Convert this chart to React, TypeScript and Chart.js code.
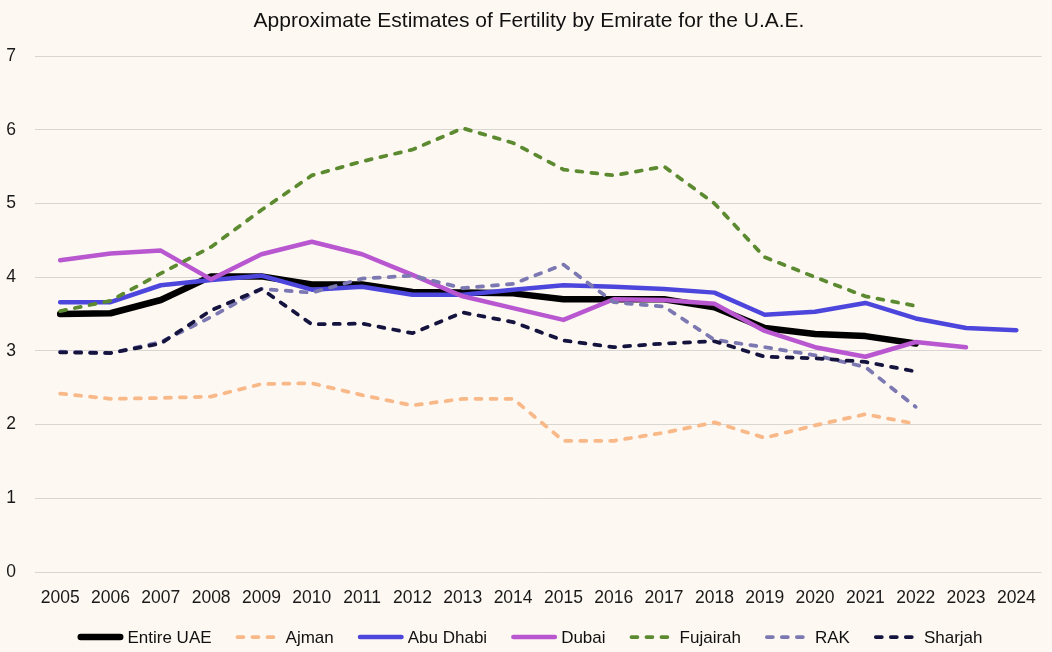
import React, { useEffect, useRef } from 'react';
import { Chart, registerables } from 'chart.js';

Chart.register(...registerables);

const FONT = '"Liberation Sans", Arial, sans-serif';

const chartTitle = 'Approximate Estimates of Fertility by Emirate for the U.A.E.';

const years = [
  '2005', '2006', '2007', '2008', '2009', '2010', '2011', '2012', '2013', '2014',
  '2015', '2016', '2017', '2018', '2019', '2020', '2021', '2022', '2023', '2024',
];

const yTicks = [0, 1, 2, 3, 4, 5, 6, 7];

const entireUAE = [3.50, 3.51, 3.69, 4.01, 4.01, 3.90, 3.90, 3.80, 3.79, 3.78, 3.70, 3.70, 3.70, 3.59, 3.31, 3.23, 3.20, 3.10, null, null];
const ajman = [2.42, 2.35, 2.36, 2.38, 2.55, 2.56, 2.40, 2.26, 2.35, 2.35, 1.78, 1.78, 1.89, 2.03, 1.82, 1.99, 2.14, 2.01, null, null];
const abuDhabi = [3.66, 3.66, 3.89, 3.96, 4.02, 3.83, 3.87, 3.76, 3.76, 3.83, 3.89, 3.87, 3.84, 3.79, 3.49, 3.53, 3.65, 3.44, 3.31, 3.28];
const dubai = [4.23, 4.32, 4.36, 3.97, 4.31, 4.48, 4.31, 4.03, 3.74, 3.58, 3.42, 3.70, 3.69, 3.64, 3.27, 3.05, 2.92, 3.12, 3.05, null];
const fujairah = [3.54, 3.68, 4.05, 4.41, 4.91, 5.38, 5.57, 5.73, 6.02, 5.82, 5.46, 5.38, 5.50, 5.00, 4.27, 4.00, 3.74, 3.61, null, null];
const rak = [2.99, 2.97, 3.12, 3.46, 3.84, 3.79, 3.98, 4.02, 3.85, 3.91, 4.17, 3.66, 3.60, 3.15, 3.05, 2.94, 2.78, 2.24, null, null];
const sharjah = [2.98, 2.97, 3.10, 3.55, 3.84, 3.36, 3.37, 3.24, 3.52, 3.39, 3.14, 3.05, 3.10, 3.13, 2.92, 2.90, 2.85, 2.72, null, null];

const seriesNames = ['Entire UAE', 'Ajman', 'Abu Dhabi', 'Dubai', 'Fujairah', 'RAK', 'Sharjah'];
const seriesValues = [entireUAE, ajman, abuDhabi, dubai, fujairah, rak, sharjah];
const seriesColors = ['#000000', '#F8B888', '#4D46DC', '#B857CF', '#5C8A30', '#7B78B2', '#15143F'];
const seriesWidths = [6.5, 3.75, 4.5, 4.5, 3.75, 3.75, 3.75];
const seriesDashed = [false, true, false, false, true, true, true];

const DASH = [6, 9];

// Title across the top and a legend row under the x-axis labels
// (short line samples followed by the series name).
const titleAndLegend = {
  id: 'titleAndLegend',
  afterDraw(chart: any) {
    const ctx = chart.ctx as CanvasRenderingContext2D;
    const datasets = chart.data.datasets;
    ctx.save();

    ctx.font = `21px ${FONT}`;
    ctx.fillStyle = '#111111';
    ctx.textAlign = 'center';
    ctx.textBaseline = 'middle';
    ctx.fillText(chartTitle, 529, 21);

    ctx.font = `17px ${FONT}`;
    const sampleW = 46;
    const textGap = 4;
    const itemGap = 24;
    const widths = datasets.map((ds: any) => ctx.measureText(ds.label).width);
    const total = widths.reduce((s: number, w: number) => s + sampleW + textGap + w, 0) + itemGap * (datasets.length - 1);
    let x = chart.width / 2 + 4 - total / 2;
    const y = 637;
    datasets.forEach((ds: any, i: number) => {
      const lw = ds.borderWidth;
      ctx.strokeStyle = ds.borderColor;
      ctx.lineWidth = lw;
      ctx.lineCap = 'round';
      ctx.setLineDash(ds.borderDash || []);
      ctx.beginPath();
      ctx.moveTo(x + lw / 2, y);
      if (ds.borderDash && ds.borderDash.length) {
        ctx.lineTo(x + 38, y);
      } else {
        ctx.lineTo(x + sampleW - lw / 2, y);
      }
      ctx.stroke();
      ctx.setLineDash([]);
      ctx.fillStyle = '#111111';
      ctx.textBaseline = 'middle';
      ctx.textAlign = 'left';
      ctx.fillText(ds.label, x + sampleW + textGap, y + 1);
      x += sampleW + textGap + widths[i] + itemGap;
    });
    ctx.restore();
  },
};

export default function App() {
  const canvasRef = useRef<HTMLCanvasElement | null>(null);

  useEffect(() => {
    if (!canvasRef.current) return;
    const datasets = seriesNames.map((name, i) => ({
      label: name,
      data: seriesValues[i],
      borderColor: seriesColors[i],
      backgroundColor: seriesColors[i],
      borderWidth: seriesWidths[i],
      borderDash: seriesDashed[i] ? DASH : [],
      borderCapStyle: 'round' as const,
      borderJoinStyle: 'round' as const,
      pointRadius: 0,
      pointHoverRadius: 0,
      tension: 0,
      fill: false,
      spanGaps: false,
      order: seriesNames.length - i,
    }));

    const chart = new Chart(canvasRef.current, {
      type: 'line',
      data: { labels: years, datasets },
      plugins: [titleAndLegend],
      options: {
        responsive: false,
        animation: false,
        devicePixelRatio: 1,
        layout: { padding: { left: 0, right: 7, top: 56, bottom: 0 } },
        plugins: {
          legend: { display: false },
          tooltip: { enabled: false },
          title: { display: false },
        },
        scales: {
          x: {
            type: 'category',
            offset: true,
            grid: { display: false, drawTicks: false },
            border: { display: false },
            ticks: {
              color: '#1a1a1a',
              font: { family: FONT, size: 17.5 },
              padding: 16,
              maxRotation: 0,
              autoSkip: false,
            },
            afterFit: (s: any) => { s.height = 80; },
          },
          y: {
            min: yTicks[0],
            max: yTicks[yTicks.length - 1],
            afterBuildTicks: (s: any) => { s.ticks = yTicks.map((v) => ({ value: v })); },
            grid: { color: '#D9D6D2', lineWidth: 1, drawTicks: false },
            border: { display: false },
            ticks: {
              color: '#1a1a1a',
              font: { family: FONT, size: 17.5 },
              padding: 19,
            },
            afterFit: (s: any) => { s.width = 35; },
          },
        },
      },
    });
    return () => chart.destroy();
  }, []);

  return (
    <div style={{ position: 'fixed', left: 0, top: 0, width: 1052, height: 652, background: '#FEF8F2' }}>
      <canvas ref={canvasRef} width={1052} height={652} style={{ display: 'block' }} />
    </div>
  );
}
